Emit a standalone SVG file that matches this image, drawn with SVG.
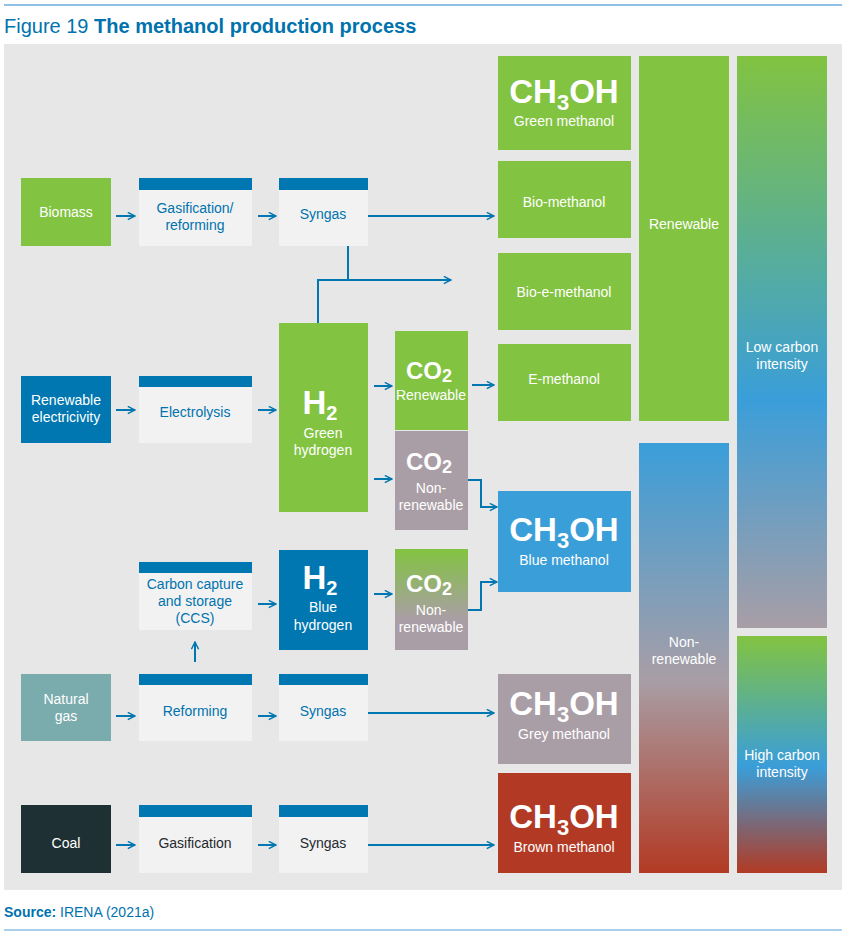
<svg xmlns="http://www.w3.org/2000/svg" width="846" height="932" viewBox="0 0 846 932">
<defs>
<style>
text{font-family:"Liberation Sans",Arial,sans-serif;text-anchor:middle}
.w{fill:#fff;font-size:14px}
.b{fill:#0072ae;font-size:14px}
.k{fill:#1f2a2e;font-size:14px}
.big{fill:#fff;font-size:33px;font-weight:bold}
.co{fill:#fff;font-size:24px;font-weight:bold}
.g{fill:#82c341}
.pb{fill:#f3f2f3}
.hd{fill:#0077b0}
.c{stroke:#0077b0;stroke-width:2;fill:none}
</style>
<marker id="a" viewBox="0 0 10 10" refX="9" refY="5" markerWidth="9" markerHeight="9" markerUnits="userSpaceOnUse" orient="auto"><path d="M1,1 L9,5 L1,9" fill="none" stroke="#0077b0" stroke-width="1.6"/></marker>
<linearGradient id="nr" x1="0" y1="0" x2="0" y2="1"><stop offset="0" stop-color="#3a9ed9"/><stop offset="0.55" stop-color="#a89ea6"/><stop offset="1" stop-color="#b23a24"/></linearGradient>
<linearGradient id="lc" x1="0" y1="0" x2="0" y2="1"><stop offset="0" stop-color="#82c341"/><stop offset="0.6" stop-color="#3a9ed9"/><stop offset="1" stop-color="#a89ea6"/></linearGradient>
<linearGradient id="hc" x1="0" y1="0" x2="0" y2="1"><stop offset="0" stop-color="#82c341"/><stop offset="0.55" stop-color="#3a9ed9"/><stop offset="1" stop-color="#b23a24"/></linearGradient>
<linearGradient id="bc" x1="0" y1="0" x2="0" y2="1"><stop offset="0" stop-color="#82c341"/><stop offset="0.7" stop-color="#aa9ea6"/></linearGradient>
</defs>
<rect width="846" height="932" fill="#fff"/>
<line x1="4" y1="5" x2="842" y2="5" stroke="#8fc1e6" stroke-width="2"/>
<text x="4" y="33" style="text-anchor:start;font-size:20px;fill:#0072ae">Figure 19 <tspan font-weight="bold">The methanol production process</tspan></text>
<rect x="4" y="44" width="838" height="846" fill="#e6e7e6"/>
<text x="4" y="917" style="text-anchor:start;font-size:14px;fill:#0072ae"><tspan font-weight="bold">Source:</tspan> IRENA (2021a)</text>
<line x1="4" y1="930" x2="842" y2="930" stroke="#8fc1e6" stroke-width="1.5"/>

<g id="biomass"><rect class="g" x="21" y="178" width="90" height="68"/><text class="w" x="66" y="217">Biomass</text></g>
<g id="renel"><rect fill="#0077b0" x="21" y="376" width="90" height="67"/><text class="w" x="66" y="405">Renewable</text><text class="w" x="66" y="422">electricivity</text></g>
<g id="natgas"><rect fill="#7aabad" x="21" y="674" width="90" height="67"/><text class="w" x="66" y="704">Natural</text><text class="w" x="66" y="721">gas</text></g>
<g id="coal"><rect fill="#1f3034" x="21" y="805" width="90" height="68"/><text class="w" x="66" y="848">Coal</text></g>

<g id="gasref"><rect class="pb" x="139" y="178" width="113" height="68"/><rect class="hd" x="139" y="178" width="113" height="12"/><text class="b" x="195" y="213">Gasification/</text><text class="b" x="195" y="230">reforming</text></g>
<g id="electrolysis"><rect class="pb" x="139" y="376" width="113" height="67"/><rect class="hd" x="139" y="376" width="113" height="11"/><text class="b" x="195" y="417">Electrolysis</text></g>
<g id="ccs"><rect class="pb" x="139" y="562" width="113" height="68"/><rect class="hd" x="139" y="562" width="113" height="11"/><text class="b" x="195" y="589">Carbon capture</text><text class="b" x="195" y="606">and storage</text><text class="b" x="195" y="623">(CCS)</text></g>
<g id="reforming"><rect class="pb" x="139" y="674" width="113" height="67"/><rect class="hd" x="139" y="674" width="113" height="11"/><text class="b" x="195" y="716">Reforming</text></g>
<g id="gasification"><rect class="pb" x="139" y="805" width="113" height="68"/><rect class="hd" x="139" y="805" width="113" height="12"/><text class="k" x="195" y="848">Gasification</text></g>

<g id="syngas1"><rect class="pb" x="279" y="178" width="89" height="68"/><rect class="hd" x="279" y="178" width="89" height="12"/><text class="b" x="323" y="219">Syngas</text></g>
<g id="h2green"><rect class="g" x="279" y="323" width="89" height="189"/><text class="big" x="320" y="414">H<tspan font-size="20" dy="6">2</tspan></text><text class="w" x="323" y="438">Green</text><text class="w" x="323" y="455">hydrogen</text></g>
<g id="h2blue"><rect fill="#0077b0" x="279" y="550" width="89" height="100"/><text class="big" x="320" y="589">H<tspan font-size="20" dy="6">2</tspan></text><text class="w" x="323" y="612">Blue</text><text class="w" x="323" y="630">hydrogen</text></g>
<g id="syngas2"><rect class="pb" x="279" y="674" width="89" height="67"/><rect class="hd" x="279" y="674" width="89" height="11"/><text class="b" x="323" y="716">Syngas</text></g>
<g id="syngas3"><rect class="pb" x="279" y="805" width="89" height="68"/><rect class="hd" x="279" y="805" width="89" height="12"/><text class="k" x="323" y="848">Syngas</text></g>

<g id="co2ren"><rect class="g" x="395" y="331" width="73" height="99"/><text class="co" x="429" y="379">CO<tspan font-size="18" dy="3">2</tspan></text><text class="w" x="431" y="400">Renewable</text></g>
<g id="co2non1"><rect fill="#aa9ea6" x="395" y="431" width="73" height="99"/><text class="co" x="429" y="470">CO<tspan font-size="18" dy="3">2</tspan></text><text class="w" x="431" y="493">Non-</text><text class="w" x="431" y="510">renewable</text></g>
<g id="co2non2"><rect fill="url(#bc)" x="395" y="549" width="73" height="101"/><text class="co" x="429" y="592">CO<tspan font-size="18" dy="3">2</tspan></text><text class="w" x="431" y="615">Non-</text><text class="w" x="431" y="632">renewable</text></g>

<g id="greenmeth"><rect class="g" x="498" y="56" width="133" height="94"/><text class="big" x="564" y="103">CH<tspan font-size="22" dy="7">3</tspan><tspan dy="-7">OH</tspan></text><text class="w" x="564" y="126">Green methanol</text></g>
<g id="biometh"><rect class="g" x="498" y="161" width="133" height="77"/><text class="w" x="564" y="207">Bio-methanol</text></g>
<g id="bioemeth"><rect class="g" x="498" y="253" width="133" height="77"/><text class="w" x="564" y="297">Bio-e-methanol</text></g>
<g id="emeth"><rect class="g" x="498" y="344" width="133" height="77"/><text class="w" x="564" y="384">E-methanol</text></g>
<g id="bluemeth"><rect fill="#3a9ed9" x="498" y="491" width="133" height="101"/><text class="big" x="564" y="541">CH<tspan font-size="22" dy="7">3</tspan><tspan dy="-7">OH</tspan></text><text class="w" x="564" y="565">Blue methanol</text></g>
<g id="greymeth"><rect fill="#aa9ea6" x="498" y="674" width="133" height="90"/><text class="big" x="564" y="715">CH<tspan font-size="22" dy="7">3</tspan><tspan dy="-7">OH</tspan></text><text class="w" x="564" y="739">Grey methanol</text></g>
<g id="brownmeth"><rect fill="#b23a24" x="498" y="773" width="133" height="100"/><text class="big" x="564" y="828">CH<tspan font-size="22" dy="7">3</tspan><tspan dy="-7">OH</tspan></text><text class="w" x="564" y="852">Brown methanol</text></g>

<g id="renewable"><rect class="g" x="639" y="56" width="90" height="365"/><text class="w" x="684" y="229">Renewable</text></g>
<g id="nonrenewable"><rect fill="url(#nr)" x="639" y="443" width="90" height="430"/><text class="w" x="684" y="647">Non-</text><text class="w" x="684" y="664">renewable</text></g>
<g id="lowcarbon"><rect fill="url(#lc)" x="737" y="56" width="90" height="572"/><text class="w" x="782" y="352">Low carbon</text><text class="w" x="782" y="369">intensity</text></g>
<g id="highcarbon"><rect fill="url(#hc)" x="737" y="636" width="90" height="237"/><text class="w" x="782" y="760">High carbon</text><text class="w" x="782" y="777">intensity</text></g>

<g id="connectors" class="c">
<line x1="116" y1="216" x2="135" y2="216" marker-end="url(#a)"/>
<line x1="258" y1="216" x2="276" y2="216" marker-end="url(#a)"/>
<line x1="368" y1="216" x2="494" y2="216" marker-end="url(#a)"/>
<line x1="348" y1="246" x2="348" y2="280"/>
<path d="M318,323 V280 H451" marker-end="url(#a)"/>
<line x1="116" y1="410" x2="135" y2="410" marker-end="url(#a)"/>
<line x1="258" y1="410" x2="276" y2="410" marker-end="url(#a)"/>
<line x1="374" y1="386" x2="392" y2="386" marker-end="url(#a)"/>
<line x1="472" y1="385" x2="494" y2="385" marker-end="url(#a)"/>
<line x1="374" y1="479" x2="392" y2="479" marker-end="url(#a)"/>
<path d="M468,480 H481 V507 H497" marker-end="url(#a)"/>
<line x1="258" y1="604" x2="276" y2="604" marker-end="url(#a)"/>
<line x1="374" y1="594" x2="392" y2="594" marker-end="url(#a)"/>
<path d="M468,610 H481 V582 H497" marker-end="url(#a)"/>
<line x1="195" y1="662" x2="195" y2="642" marker-end="url(#a)"/>
<line x1="116" y1="716" x2="135" y2="716" marker-end="url(#a)"/>
<line x1="258" y1="716" x2="276" y2="716" marker-end="url(#a)"/>
<line x1="368" y1="713" x2="494" y2="713" marker-end="url(#a)"/>
<line x1="116" y1="845" x2="135" y2="845" marker-end="url(#a)"/>
<line x1="258" y1="845" x2="276" y2="845" marker-end="url(#a)"/>
<line x1="368" y1="845" x2="494" y2="845" marker-end="url(#a)"/>
</g>
</svg>
